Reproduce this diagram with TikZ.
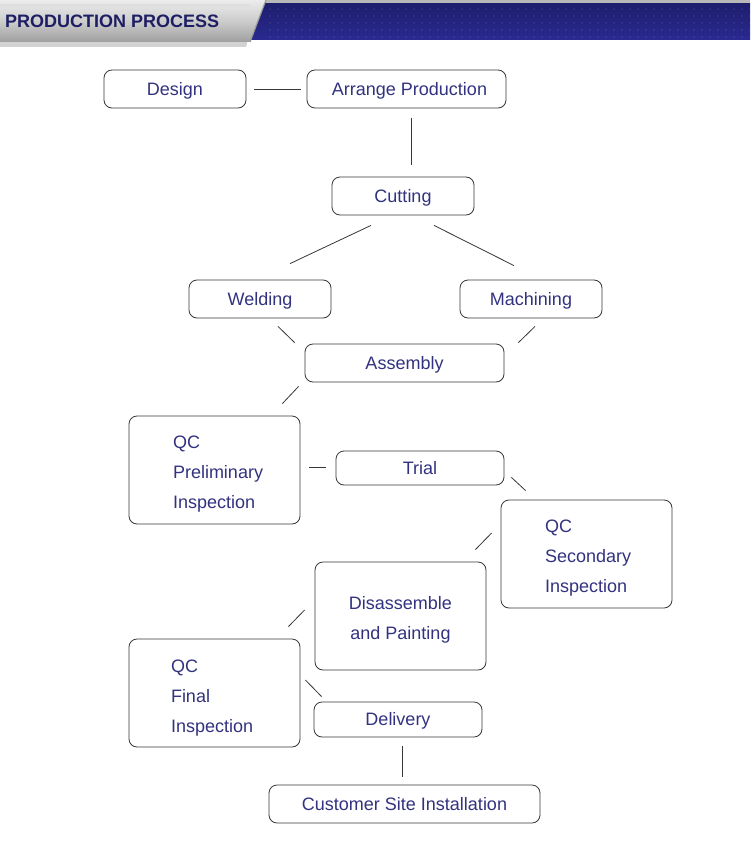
\documentclass[tikz,border=0pt]{standalone}
\usepackage{fontspec}
\setmainfont{Liberation Sans}
\usetikzlibrary{calc}
\definecolor{txt}{RGB}{50,50,128}
\definecolor{ttl}{RGB}{30,30,100}
\definecolor{edge}{RGB}{55,55,55}
\definecolor{band}{RGB}{42,42,145}
\definecolor{bandtop}{RGB}{30,30,110}
\newcommand{\firstup}{\rule{0pt}{21pt}}
\begin{document}
\begin{tikzpicture}[x=1pt,y=-1pt,
  box/.style={draw=edge, line width=0.8pt, rounded corners=8pt, text=txt,
    font=\fontsize{18}{30}\selectfont, inner sep=0pt},
  small/.style={box, minimum height=38pt, text height=16pt, text depth=4pt},
  qc/.style={box, minimum height=108pt, text width=171pt, align=left},
  conn/.style={draw=edge, line width=0.8pt}]
\useasboundingbox (0,0) rectangle (750,859);
\fill[white] (0,0) rectangle (750,859);
% header
\fill[gray!55] (0,0) rectangle (750,4);
\shade[top color=bandtop, bottom color=band] (245,4) rectangle (750,40);
\foreach \yy in {9,16,23,30,37}{
  \foreach \xx in {270,278,...,750}{
    \fill[white, opacity=0.12] (\xx,\yy) circle (0.9);
  }
}
\fill[gray!35] (0,40) -- (248,40) -- (246,47) -- (0,47) -- cycle;
\shade[top color=gray!15, bottom color=gray!75, middle color=gray!40]
  (0,0) -- (266,0) -- (250,42) -- (0,42) -- cycle;
\draw[gray!80, line width=1.2pt] (266,0) -- (250,42);
\fill[gray!25] (0,4) rectangle (250,7);
\node[font=\bfseries\fontsize{18}{18}\selectfont, text=ttl, anchor=west, inner sep=0pt] (title) at (5,21) {PRODUCTION PROCESS};
% nodes
\node[small, minimum width=142pt] (design) at (175,89) {Design};
\node[small, minimum width=199pt] (arrange) at (406.5,89) {\hspace*{6pt}Arrange Production};
\node[small, minimum width=142pt] (cutting) at (403,196) {Cutting};
\node[small, minimum width=142pt] (welding) at (260,299) {Welding};
\node[small, minimum width=142pt] (machining) at (531,299) {Machining};
\node[small, minimum width=199pt] (assembly) at (404.5,363) {Assembly};
\node[qc] (prelim) at (214.5,470) {\hspace*{44pt}\firstup QC\\\hspace*{44pt}Preliminary\\\hspace*{44pt}Inspection};
\node[box, minimum width=168pt, minimum height=34pt, text height=16pt, text depth=4pt] (trial) at (420,468) {Trial};
\node[qc] (secondary) at (586.5,554) {\hspace*{44pt}\firstup QC\\\hspace*{44pt}Secondary\\\hspace*{44pt}Inspection};
\node[box, minimum width=171pt, minimum height=108pt, align=center] (disassemble) at (400.5,616) {\firstup Disassemble\\and Painting};
\node[qc] (final) at (214.5,693) {\hspace*{42pt}\rule{0pt}{23pt}QC\\\hspace*{42pt}Final\\\hspace*{42pt}Inspection};
\node[box, minimum width=168pt, minimum height=35pt, text height=16pt, text depth=4pt] (delivery) at (398,719.5) {Delivery};
\node[small, minimum width=271pt] (customer) at (404.5,804) {Customer Site Installation};
% connectors
\draw[conn] ($(design.east)+(8,0)$) -- ($(arrange.west)+(-6,0)$);
\draw[conn] ($(arrange.south)+(4.5,10)$) -- ($(cutting.north)+(8,-12)$);
\draw[conn] ($(cutting.south)+(-32,10)$) -- ($(welding.north)+(30,-16)$);
\draw[conn] ($(cutting.south)+(31,10)$) -- ($(machining.north)+(-17,-14)$);
\draw[conn] ($(welding.south)+(18,8)$) -- ($(assembly.north west)+(-10,-1)$);
\draw[conn] ($(machining.south)+(4,8)$) -- ($(assembly.north east)+(14,-1)$);
\draw[conn] ($(assembly.south west)+(-6,4)$) -- ($(prelim.north east)+(-18,-12)$);
\draw[conn] ($(prelim.east)+(9,-3)$) -- ($(trial.west)+(-10,-1)$);
\draw[conn] ($(trial.south east)+(7,-8)$) -- ($(secondary.north west)+(25,-9)$);
\draw[conn] ($(secondary.west)+(-9,-21)$) -- ($(disassemble.north east)+(-11,-12)$);
\draw[conn] ($(disassemble.west)+(-10,-6)$) -- ($(final.north east)+(-12,-12)$);
\draw[conn] ($(final.east)+(5,-13)$) -- ($(delivery.north west)+(8,-5)$);
\draw[conn] ($(delivery.south)+(4,9)$) -- ($(customer.north)+(-2.5,-8)$);
\end{tikzpicture}
\end{document}
